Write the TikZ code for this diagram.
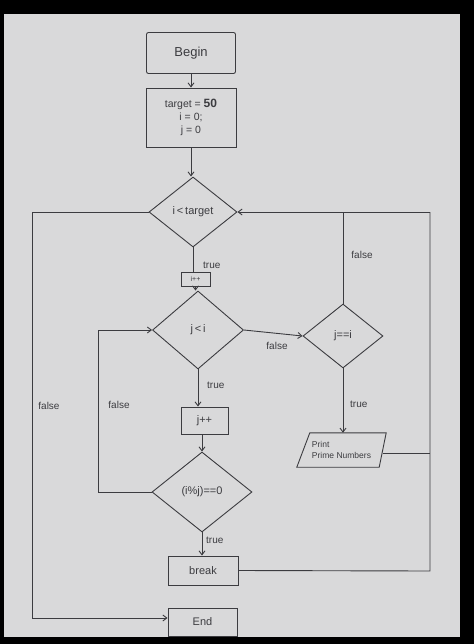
\documentclass[tikz,border=0pt]{standalone}
\usepackage{fontspec}
\setmainfont{Liberation Sans}
\usetikzlibrary{shapes.geometric,arrows.meta}
\definecolor{paper}{HTML}{D9D9DA}
\definecolor{ink}{HTML}{3C3C40}
\tikzset{
  box/.style={draw=ink,line width=0.9pt,rectangle,inner sep=1pt,text=ink,font=\fontsize{11}{13}\selectfont},
  dia/.style={draw=ink,line width=0.9pt,diamond,inner sep=0pt,text=ink,font=\fontsize{11}{13}\selectfont},
  para/.style={rectangle,inner sep=1pt,text=ink,font=\fontsize{8.5}{11}\selectfont,align=left},
  conn/.style={draw=ink,line width=0.9pt},
  arr/.style={conn,-{Straight Barb[length=4pt,width=6pt]}},
  lbl/.style={text=ink,font=\fontsize{10}{12}\selectfont,inner sep=0pt}
}
\begin{document}
\begin{tikzpicture}[x=1pt,y=-1pt]
\useasboundingbox (0,0) rectangle (474,644);
\fill[black] (0,0) rectangle (474,644);
\fill[paper] (4,14) rectangle (460,637);

\node[box,rounded corners=2pt,minimum width=89pt,minimum height=41pt,font=\fontsize{13}{15}\selectfont] (begin) at (191,53) {Begin};
\node[box,minimum width=90pt,minimum height=59pt,align=center,font=\fontsize{10.5}{13}\selectfont] (init) at (191,117.5) {target = \textbf{\fontsize{12}{12}\selectfont 50}\\i = 0;\\j = 0};
\node[dia,minimum width=88pt,minimum height=70pt] (d1) at (193,212) {i\,<\,target};
\node[box,minimum width=29pt,minimum height=14pt,font=\fontsize{7}{8}\selectfont] (inc) at (195.5,279) {i++};
\node[dia,minimum width=91pt,minimum height=78pt] (d2) at (198,330) {j\,<\,i};
\node[box,minimum width=47pt,minimum height=27pt] (jinc) at (204.5,420.5) {j++};
\node[dia,minimum width=100pt,minimum height=80pt] (d3) at (202,492) {(i\%j)==0};
\node[box,minimum width=70pt,minimum height=29pt] (brk) at (203,570.5) {break};
\node[box,minimum width=69pt,minimum height=28pt] (endn) at (202.5,622) {End};
\node[dia,minimum width=80pt,minimum height=64pt] (d4) at (343,336) {j==i};
\node[para,minimum width=89pt,minimum height=34pt] (print) at (341.5,450) {Print\\Prime Numbers};
\draw[conn] (print.south west) -- ([xshift=13pt]print.north west) -- (print.north east) -- ([xshift=-7pt]print.south east) -- cycle;

\coordinate (rb) at (430,571);
\coordinate (lb) at (32,618);
\coordinate (ml) at (98,492);
\coordinate (pr) at (430,453);

\draw[arr] (begin.south) -- (init.north);
\draw[arr] (init.south) -- (init.south |- d1.north);
\draw[conn] (d1.south) -- (d1.south |- inc.north);
\draw[arr] (inc.south) -- (inc.south |- d2.north);
\draw[arr] (d2.south) -- (d2.south |- jinc.north);
\draw[arr] (jinc.south -| d3.north) -- (d3.north);
\draw[arr] (d3.south) -- (d3.south |- brk.north);
\draw[conn] (d3.west) -- (ml) -- (ml |- d2.west);
\draw[arr] (ml |- d2.west) -- (d2.west);
\draw[arr] (d2.east) -- (d4.west);
\draw[arr] (d4.south) -- (d4.south |- print.north);
\draw[conn] (d4.north) -- (d4.north |- d1.east);
\draw[conn] ([xshift=-3pt]print.east |- pr) -- (pr);
\draw[conn] (brk.east) -- (rb) -- (rb |- d1.east);
\draw[arr] (rb |- d1.east) -- (d1.east);
\draw[conn] (d1.west) -- (d1.west -| lb) -- (lb);
\draw[arr] (lb) -- (lb -| endn.west);

\node[lbl,anchor=west] (t1) at (203,265) {true};
\node[lbl,anchor=west] (t2) at (207,385) {true};
\node[lbl,anchor=west] (t3) at (206,540) {true};
\node[lbl,anchor=west] (t4) at (350,404) {true};
\node[lbl] (f1) at (362,255) {false};
\node[lbl] (f2) at (277,346) {false};
\node[lbl] (f3) at (119,405) {false};
\node[lbl] (f4) at (49,406) {false};
\end{tikzpicture}
\end{document}
